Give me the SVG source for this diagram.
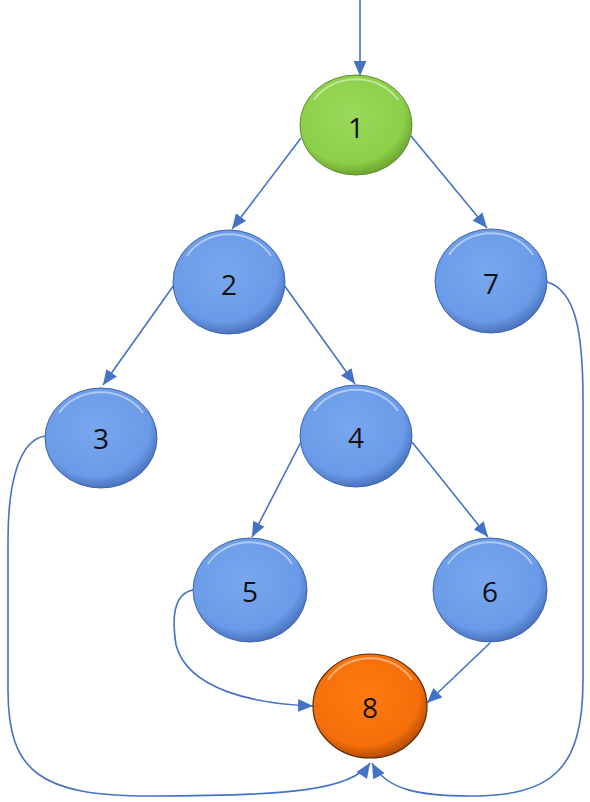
<svg xmlns="http://www.w3.org/2000/svg" width="590" height="802" viewBox="0 0 590 802">
<defs>
<radialGradient id="gGreen" cx="0.45" cy="0.4" r="0.6">
<stop offset="0" stop-color="#9ad95a"/><stop offset="0.8" stop-color="#8ccf48"/><stop offset="1" stop-color="#6ea534"/>
</radialGradient>
<radialGradient id="gBlue" cx="0.45" cy="0.4" r="0.6">
<stop offset="0" stop-color="#78a7ee"/><stop offset="0.8" stop-color="#6b9be8"/><stop offset="1" stop-color="#4a74bf"/>
</radialGradient>
<radialGradient id="gOrange" cx="0.45" cy="0.4" r="0.6">
<stop offset="0" stop-color="#ff7a10"/><stop offset="0.8" stop-color="#f56f0a"/><stop offset="1" stop-color="#b84e05"/>
</radialGradient>
<marker id="arr" viewBox="0 0 14 12" refX="14" refY="6" markerWidth="15" markerHeight="13" markerUnits="userSpaceOnUse" orient="auto">
<path d="M0,0 L14,6 L0,12 Z" fill="#4472c4"/>
</marker>
</defs>
<style>
.edge{fill:none;stroke:#4472c4;stroke-width:1.6}
.green{fill:url(#gGreen);stroke:#5f8f2c;stroke-width:1}
.blue{fill:url(#gBlue);stroke:#3f65a8;stroke-width:1}
.orange{fill:url(#gOrange);stroke:#5a2a05;stroke-width:1.2}
.hl{fill:none;stroke:#ffffff;stroke-opacity:0.45;stroke-width:2}
.lbl{font-family:"Open Sans","Liberation Sans",sans-serif;font-size:28px;fill:#111;text-anchor:middle;dominant-baseline:central}
</style>
<g id="connectors">
<path class="edge" d="M360,0 L360,76" marker-end="url(#arr)"/>
<path class="edge" d="M301,138 L232,229" marker-end="url(#arr)"/>
<path class="edge" d="M411,136 L487,228" marker-end="url(#arr)"/>
<path class="edge" d="M174,285 L103,385" marker-end="url(#arr)"/>
<path class="edge" d="M284,285 L355,384" marker-end="url(#arr)"/>
<path class="edge" d="M302,440 L252,537" marker-end="url(#arr)"/>
<path class="edge" d="M412,442 L488,537" marker-end="url(#arr)"/>
<path class="edge" d="M490,643 L427,703" marker-end="url(#arr)"/>
<path class="edge" d="M193,590 C172,594 172,620 176,645 C188,690 255,704 313,706" marker-end="url(#arr)"/>
<path class="edge" d="M45,436 C20,440 8,480 8,540 L8,690 C8,772 40,796 150,796 C290,796 352,790 370,763" marker-end="url(#arr)"/>
<path class="edge" d="M547,282 C575,290 583,330 583,400 L583,680 C583,772 550,796 470,796 C420,796 386,790 372,763" marker-end="url(#arr)"/>
</g>
<g id="node1">
<ellipse class="green" cx="356" cy="125" rx="56" ry="50"/>
<path class="hl" d="M314,100 A48,40 0 0 1 398,100"/>
<text class="lbl" x="356" y="127">1</text>
</g>
<g id="node2">
<ellipse class="blue" cx="229" cy="282" rx="56" ry="52"/>
<path class="hl" d="M187,256 A48,42 0 0 1 271,256"/>
<text class="lbl" x="229" y="284">2</text>
</g>
<g id="node7">
<ellipse class="blue" cx="491" cy="281" rx="56" ry="52"/>
<path class="hl" d="M449,255 A48,42 0 0 1 533,255"/>
<text class="lbl" x="491" y="283">7</text>
</g>
<g id="node3">
<ellipse class="blue" cx="101" cy="438" rx="56" ry="50"/>
<path class="hl" d="M59,413 A48,40 0 0 1 143,413"/>
<text class="lbl" x="101" y="438">3</text>
</g>
<g id="node4">
<ellipse class="blue" cx="356" cy="436" rx="56" ry="51"/>
<path class="hl" d="M314,411 A48,41 0 0 1 398,411"/>
<text class="lbl" x="356" y="437">4</text>
</g>
<g id="node5">
<ellipse class="blue" cx="250" cy="590" rx="57" ry="52"/>
<path class="hl" d="M208,564 A48,42 0 0 1 292,564"/>
<text class="lbl" x="250" y="591">5</text>
</g>
<g id="node6">
<ellipse class="blue" cx="490" cy="590" rx="57" ry="52"/>
<path class="hl" d="M448,564 A48,42 0 0 1 532,564"/>
<text class="lbl" x="490" y="591">6</text>
</g>
<g id="node8">
<ellipse class="orange" cx="370" cy="706" rx="57" ry="52"/>
<path class="hl" d="M328,680 A48,42 0 0 1 412,680"/>
<text class="lbl" x="370" y="707">8</text>
</g>
</svg>
